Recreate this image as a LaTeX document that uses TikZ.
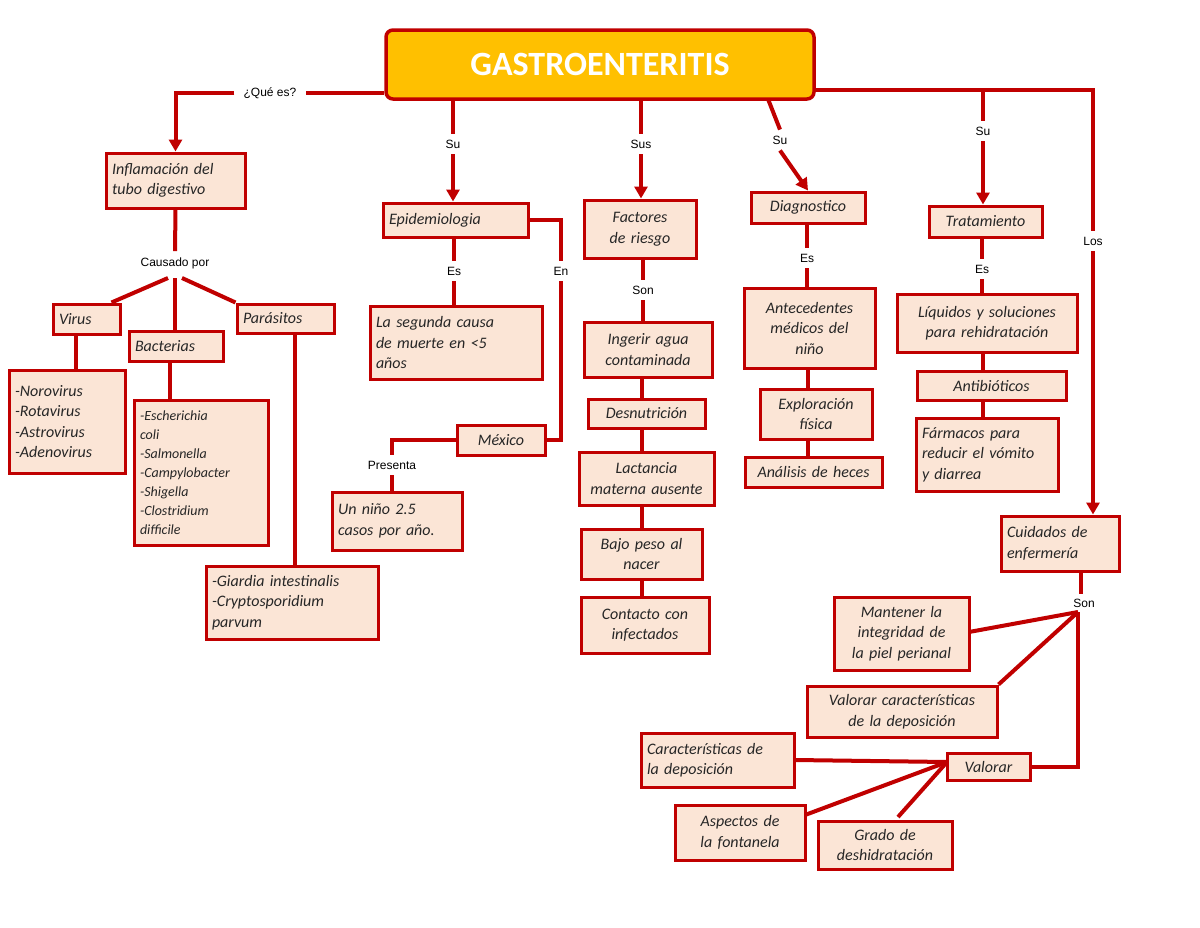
\documentclass[tikz,border=0pt]{standalone}
\usepackage{fontspec}
\setmainfont{Carlito}
\newfontfamily\lab{Liberation Sans}
\usetikzlibrary{arrows.meta}
\definecolor{rr}{HTML}{C00000}
\definecolor{pk}{HTML}{FBE5D6}
\definecolor{gold}{HTML}{FFC000}
\begin{document}
\begin{tikzpicture}[x=1pt,y=-1pt,
 box/.style={draw=rr,line width=3pt,fill=pk,inner sep=2pt,font=\fontsize{16}{20.5}\selectfont\itshape,text=black!85},
 lbl/.style={font=\lab\fontsize{12}{14}\selectfont,inner sep=1pt},
 ln/.style={draw=rr,line width=4pt},
 ar/.style={ln,-{Triangle[length=12pt,width=13pt]}}]
\useasboundingbox (0,0) rectangle (1200,927);
\newcommand{\bx}[7]{\node[box,minimum width=#4-#2,minimum height=#5-#3,text width=#4-#2-12,align=#6] (#1) at ({(#2+#4)/2},{(#3+#5)/2}) {#7};}
\node[draw=rr,line width=3.5pt,fill=gold,rounded corners=7pt,minimum width=428,minimum height=69,text=white,font=\fontsize{34}{38}\selectfont\bfseries] (title) at (600,64.5) {GASTROENTERITIS};
\bx{infl}{106}{153}{245}{208}{left}{Inflamación del\\tubo digestivo}
\bx{epi}{383}{203}{528}{237}{left}{Epidemiologia}
\bx{fac}{584}{200}{696}{258}{center}{Factores\\de riesgo}
\bx{dia}{751}{192}{865}{223}{center}{Diagnostico}
\bx{tra}{929}{206}{1042}{237}{center}{Tratamiento}
\bx{vir}{53}{304}{120}{334}{left}{Virus}
\bx{bac}{129}{331}{223}{361}{left}{Bacterias}
\bx{par}{237}{304}{334}{333}{left}{Parásitos}
\bx{nor}{9}{370}{125}{473}{left}{-Norovirus\\-Rotavirus\\-Astrovirus\\-Adenovirus}
\node[box,minimum width=134,minimum height=145,text width=122,align=left,font=\fontsize{14}{19}\selectfont\itshape] (esc) at (201,472.5) {-Escherichia\\coli\\-Salmonella\\-Campylobacter\\-Shigella\\-Clostridium\\difficile};
\bx{gia}{206}{566}{378}{639}{left}{-Giardia intestinalis\\-Cryptosporidium\\parvum}
\bx{seg}{370}{306}{542}{379}{left}{La segunda causa\\de muerte en <5\\años}
\bx{mex}{457}{425}{545}{455}{center}{México}
\bx{nin}{332}{492}{462}{550}{left}{Un niño 2.5\\casos por año.}
\bx{ing}{584}{322}{712}{377}{center}{Ingerir agua\\contaminada}
\bx{des}{588}{399}{705}{428}{center}{Desnutrición}
\bx{lac}{579}{452}{714}{505}{center}{Lactancia\\materna ausente}
\bx{baj}{581}{529}{702}{579}{center}{Bajo peso al\\nacer}
\bx{con}{581}{597}{709}{653}{center}{Contacto con\\infectados}
\bx{ant}{744}{288}{875}{368}{center}{Antecedentes\\médicos del\\niño}
\bx{exp}{760}{389}{872}{439}{center}{Exploración\\física}
\bx{ana}{745}{457}{882}{487}{center}{Análisis de heces}
\bx{liq}{897}{294}{1077}{352}{center}{Líquidos y soluciones\\para rehidratación}
\bx{ati}{917}{371}{1066}{400}{center}{Antibióticos}
\bx{far}{916}{418}{1058}{491}{left}{Fármacos para\\reducir el vómito\\y diarrea}
\bx{cui}{1001}{516}{1119}{571}{left}{Cuidados de\\enfermería}
\bx{man}{834}{597}{969}{670}{center}{Mantener la\\integridad de\\la piel perianal}
\bx{vca}{807}{686}{997}{737}{center}{Valorar características\\de la deposición}
\bx{car}{641}{733}{794}{787}{left}{Características de\\la deposición}
\bx{val}{947}{753}{1030}{780}{center}{Valorar}
\bx{asp}{675}{805}{805}{860}{center}{Aspectos de\\la fontanela}
\bx{gra}{818}{821}{952}{869}{center}{Grado de\\deshidratación}
% labels
\node[lbl] (qe) at (270,93) {¿Qué es?};
\node[lbl] (cau) at (175,263) {Causado por};
\node[lbl] (su1) at (453,144) {Su};
\node[lbl] (sus) at (641,144) {Sus};
\node[lbl] (su2) at (780,140) {Su};
\node[lbl] (su3) at (983,131) {Su};
\node[lbl] (es1) at (454,271) {Es};
\node[lbl] (en) at (561,271) {En};
\node[lbl] (son1) at (643,290) {Son};
\node[lbl] (es2) at (807,258) {Es};
\node[lbl] (es3) at (982,269) {Es};
\node[lbl] (los) at (1093,241) {Los};
\node[lbl] (pre) at (392,465) {Presenta};
\node[lbl] (son2) at (1084,603) {Son};
% connectors
\draw[ln] (title.west|-qe) -- ([xshift=8pt]qe.east);
\draw[ar] ([xshift=-8pt]qe.west) -| (infl.north);
\draw[ln] (title.south-|su1) -- ([yshift=5pt]su1.north);
\draw[ar] ([yshift=-5pt]su1.south) -- (su1|-epi.north);
\draw[ln] (title.south-|sus) -- ([yshift=5pt]sus.north);
\draw[ar] ([yshift=-5pt]sus.south) -- (sus|-fac.north);
\draw[ln] (768,99) -- ([yshift=5pt]su2.north);
\draw[ar] ([yshift=-5pt]su2.south) -- (dia.north);
\draw[ln] ([yshift=-25pt]title.east) -| ([yshift=5pt]los.north);
\draw[ln] (su3|-0,91) -- ([yshift=5pt]su3.north);
\draw[ar] ([yshift=-5pt]su3.south) -- (su3|-tra.north);
\draw[ar] ([yshift=-5pt]los.south) -- (los|-cui.north);
\draw[ln] (infl.south) -- ([yshift=5pt]cau.north);
\draw[ln] (168,278) -- ([xshift=-10pt]vir.north east);
\draw[ln] (175,278) -- (bac.north-|175,0);
\draw[ln] (182,278) -- (par.north west);
\draw[ln] (vir.south-|76,0) -- (nor.north-|76,0);
\draw[ln] (bac.south-|170,0) -- (esc.north-|170,0);
\draw[ln] (par.south-|295,0) -- (gia.north-|295,0);
\draw[ln] (epi.south-|es1) -- ([yshift=5pt]es1.north);
\draw[ln] ([yshift=-5pt]es1.south) -- (seg.north-|es1);
\draw[ln] (epi.east) -| ([yshift=5pt]en.north);
\draw[ln] ([yshift=-5pt]en.south) |- (mex.east);
\draw[ln] (mex.west) -| ([yshift=5pt]pre.north);
\draw[ln] ([yshift=-5pt]pre.south) -- (pre|-nin.north);
\draw[ln] (fac.south-|son1) -- ([yshift=5pt]son1.north);
\draw[ln] ([yshift=-5pt]son1.south) -- (son1|-ing.north);
\draw[ln] (ing.south-|642,0) -- (des.north-|642,0);
\draw[ln] (des.south-|642,0) -- (lac.north-|642,0);
\draw[ln] (lac.south-|642,0) -- (baj.north-|642,0);
\draw[ln] (baj.south-|642,0) -- (con.north-|642,0);
\draw[ln] (dia.south-|es2) -- ([yshift=5pt]es2.north);
\draw[ln] ([yshift=-5pt]es2.south) -- (es2|-ant.north);
\draw[ln] (ant.south-|808,0) -- (exp.north-|808,0);
\draw[ln] (exp.south-|808,0) -- (ana.north-|808,0);
\draw[ln] (tra.south-|es3) -- ([yshift=5pt]es3.north);
\draw[ln] ([yshift=-5pt]es3.south) -- (es3|-liq.north);
\draw[ln] (liq.south-|983,0) -- (ati.north-|983,0);
\draw[ln] (ati.south-|983,0) -- (far.north-|983,0);
\draw[ln] (cui.south-|1081,0) -- ([yshift=4pt]son2.north-|1081,0);
\coordinate (sp) at (1078,612);
\draw[ln] (sp) -- (969,632);
\draw[ln] (sp) -- (vca.north east);
\draw[ln] (sp) |- (val.east);
\coordinate (vp) at (947,762);
\draw[ln] (vp) -- (car.east);
\draw[ln] (vp) -- (805,815);
\draw[ln] (vp) -- (898,817);
\end{tikzpicture}
\end{document}
